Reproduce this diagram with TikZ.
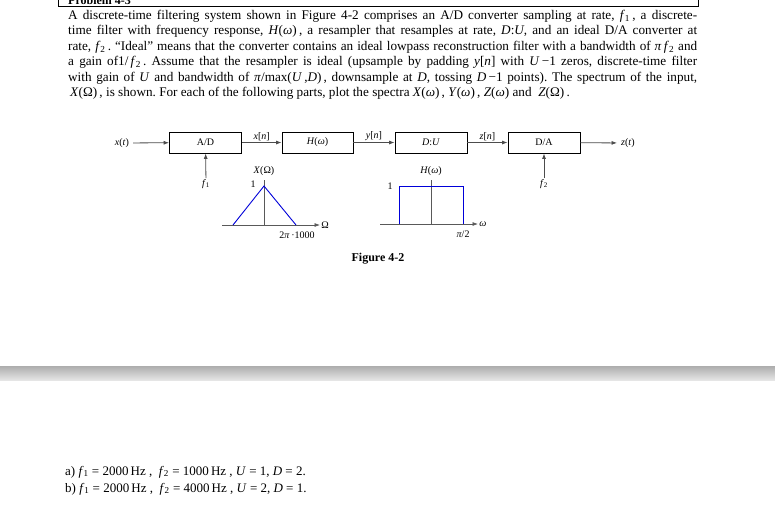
\documentclass[tikz,border=0pt]{standalone}
\usepackage{fontspec}
\setmainfont{Liberation Serif}
\usetikzlibrary{arrows.meta}
\newcommand{\va}[1]{\textit{#1}}
\newcommand{\fone}{\textit{f}\textsubscript{1}}
\newcommand{\ftwo}{\textit{f}\textsubscript{2}}
\newcommand{\parfont}{\fontsize{13.2}{15.5}\selectfont\frenchspacing}
\newcommand{\parline}[1]{\makebox[629pt][s]{#1}}

\begin{document}
\begin{tikzpicture}[x=1pt,y=-1pt,>={Latex[length=5.5pt,width=4pt]},
		block/.style={draw, line width=.8pt, minimum width=72pt, minimum height=21pt,
			inner sep=0pt, font=\fontsize{10}{11}\selectfont},
		lab/.style={inner sep=1pt, font=\fontsize{10}{11}\selectfont},
		sig/.style={->, draw=black!70, line width=.8pt},
		axis/.style={draw=black!65, line width=.7pt},
		spec/.style={draw=blue!85!black, line width=.9pt}]
	\clip (0,0) rectangle (775,507);
	\fill[white] (0,0) rectangle (775,507);
	% heading frame
	\draw[line width=.8pt] (58,-10) -- (58,6.5) -- (698,6.5) -- (698,-10);
	\node[anchor=base west, inner sep=0pt, font=\fontsize{12}{14}\selectfont\bfseries]
		(head) at (68,4.5) {Problem 4-3};
	% problem text
	\foreach \txt [count=\k] in {
			{A discrete-time filtering system shown in Figure 4-2 comprises an A/D converter sampling at rate, \fone\,, a discrete-},
			{time filter with frequency response, \va{H}(\va{ω})\,, a resampler that resamples at rate, \va{D}:\va{U}, and an ideal D/A converter at},
			{rate, \ftwo\,. “Ideal” means that the converter contains an ideal lowpass reconstruction filter with a bandwidth of \va{π}\,\ftwo{} and},
			{a gain of1/\,\ftwo\,. Assume that the resampler is ideal (upsample by padding \va{y}[\va{n}] with \va{U}\,−1 zeros, discrete-time filter},
			{with gain of \va{U} and bandwidth of \va{π}/max(\va{U}\,,\va{D})\,, downsample at \va{D}, tossing \va{D}\,−1 points). The spectrum of the input,}}
		\node[anchor=base west, inner sep=0pt, font=\parfont] (line\k) at (68,{19.3+15.5*(\k-1)}) {\parline{\txt}};
	\node[anchor=base west, inner sep=0pt, font=\parfont] (line6) at (70,96.8)
		{\va{X}(Ω)\,, is shown. For each of the following parts, plot the spectra \va{X}(\va{ω})\,, \va{Y}(\va{ω})\,, \va{Z}(\va{ω}) and \ \va{Z}(Ω)\,.};
	% block diagram
	\node[lab, inner xsep=4pt] (xt) at (122,143) {\va{x}(\va{t})};
	\node[block] (ad) at (205.5,142.5) {A/D};
	\node[block, minimum width=71pt] (filt) at (317.5,142.5) {\va{H}(\va{ω})};
	\node[block] (du) at (431,142.5) {\va{D}:\va{U}};
	\node[block] (da) at (544,142.5) {D/A};
	\node[lab, anchor=west, inner xsep=4pt] (zt) at (617,143) {\va{z}(\va{t})};
	\node[lab] (fs1) at (206,184) {\fone};
	\node[lab] (fs2) at (544,184) {\ftwo};
	\draw[sig] (xt) -- (ad);
	\draw[sig] (ad) -- (filt) node[midway, above, lab] {\va{x}[\va{n}]};
	\draw[sig] (filt) -- (du) node[midway, above, lab] {\va{y}[\va{n}]};
	\draw[sig] (du) -- (da) node[midway, above, lab] {\va{z}[\va{n}]};
	\draw[sig] (da) -- (zt);
	\draw[sig] (fs1) -- (ad);
	\draw[sig] (fs2) -- (da);
	% input spectrum
	\draw[axis, ->] (222,225) -- (320,225)
		node[right, lab] {Ω};
	\draw[axis] (264,225) -- (264,180);
	\draw[spec] (233,225) -- (264,186) -- (296,225);
	\node[lab] at (253,184) {1};
	\node[lab] at (264,171) {\va{X}(Ω)};
	\node[lab] at (297,235) {2\va{π}\,·1000};
	% filter response
	\draw[axis, ->] (380,224) -- (478,224)
		node[right, lab] {\va{ω}};
	\draw[axis] (431,224) -- (431,180);
	\draw[spec] (399,224) -- (399,186) -- (463,186) -- (463,224);
	\node[lab] at (390,186) {1};
	\node[lab] at (431,171) {\va{H}(\va{ω})};
	\node[lab] at (463,234) {\va{π}/2};
	\node[font=\fontsize{12}{14}\selectfont\bfseries] (cap) at (378,259) {Figure 4-2};
	% separator band
	\shade[top color=black!32, bottom color=black!10] (0,366) rectangle (775,380);
	% parts
	\node[anchor=base west, inner sep=0pt, font=\fontsize{13}{15}\selectfont] (parta) at (65,475)
		{a) \fone{} = 2000\,Hz ,\ \ \ftwo{} = 1000\,Hz , \va{U} = 1, \va{D} = 2.};
	\node[anchor=base west, inner sep=0pt, font=\fontsize{13}{15}\selectfont] (partb) at (65,492)
		{b) \fone{} = 2000\,Hz ,\ \ \ftwo{} = 4000\,Hz , \va{U} = 2, \va{D} = 1.};
\end{tikzpicture}
\end{document}
